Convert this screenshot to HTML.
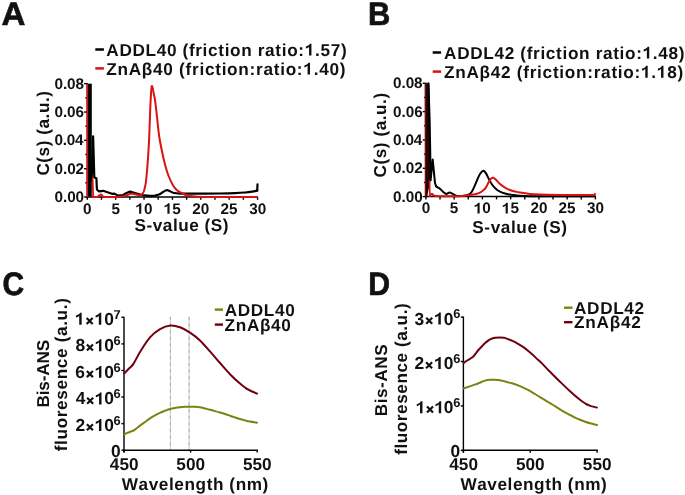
<!DOCTYPE html>
<html><head><meta charset="utf-8"><style>
html,body{margin:0;padding:0;background:#fff;}
body{width:685px;height:495px;overflow:hidden;}
svg{display:block;will-change:transform;}
svg text{font-family:"Liberation Sans",sans-serif;font-weight:bold;font-kerning:none;text-rendering:geometricPrecision;}
</style></head><body>
<svg width="685" height="495" viewBox="0 0 685 495">
<rect width="685" height="495" fill="#fff"/>
<text transform="translate(1.42 24.55) scale(1.02 1)" font-size="32.5" fill="#111" stroke="#111" stroke-width="0.7" stroke-linejoin="round">A</text>
<text transform="translate(367.97 24.75) scale(0.95 1)" font-size="32.5" fill="#111" stroke="#111" stroke-width="0.7" stroke-linejoin="round">B</text>
<text transform="translate(2.52 295.05) scale(0.92 1)" font-size="32.5" fill="#111" stroke="#111" stroke-width="0.7" stroke-linejoin="round">C</text>
<text transform="translate(368.13 294.55) scale(0.93 1)" font-size="32.5" fill="#111" stroke="#111" stroke-width="0.7" stroke-linejoin="round">D</text>
<line x1="87.3" y1="83.2" x2="87.3" y2="197.7" stroke="#000" stroke-width="1.5"/>
<line x1="86.6" y1="197" x2="258.05" y2="197" stroke="#000" stroke-width="1.5"/>
<line x1="84.1" y1="197" x2="87.3" y2="197" stroke="#000" stroke-width="1.4"/>
<line x1="85.3" y1="182.84" x2="87.3" y2="182.84" stroke="#000" stroke-width="1.4"/>
<line x1="84.1" y1="168.68" x2="87.3" y2="168.68" stroke="#000" stroke-width="1.4"/>
<line x1="85.3" y1="154.51" x2="87.3" y2="154.51" stroke="#000" stroke-width="1.4"/>
<line x1="84.1" y1="140.35" x2="87.3" y2="140.35" stroke="#000" stroke-width="1.4"/>
<line x1="85.3" y1="126.19" x2="87.3" y2="126.19" stroke="#000" stroke-width="1.4"/>
<line x1="84.1" y1="112.03" x2="87.3" y2="112.03" stroke="#000" stroke-width="1.4"/>
<line x1="85.3" y1="97.86" x2="87.3" y2="97.86" stroke="#000" stroke-width="1.4"/>
<line x1="84.1" y1="83.7" x2="87.3" y2="83.7" stroke="#000" stroke-width="1.4"/>
<line x1="87.3" y1="197" x2="87.3" y2="199.8" stroke="#000" stroke-width="1.4"/>
<line x1="101.49" y1="197" x2="101.49" y2="199.8" stroke="#000" stroke-width="1.4"/>
<line x1="115.67" y1="197" x2="115.67" y2="199.8" stroke="#000" stroke-width="1.4"/>
<line x1="129.86" y1="197" x2="129.86" y2="199.8" stroke="#000" stroke-width="1.4"/>
<line x1="144.05" y1="197" x2="144.05" y2="199.8" stroke="#000" stroke-width="1.4"/>
<line x1="158.24" y1="197" x2="158.24" y2="199.8" stroke="#000" stroke-width="1.4"/>
<line x1="172.43" y1="197" x2="172.43" y2="199.8" stroke="#000" stroke-width="1.4"/>
<line x1="186.61" y1="197" x2="186.61" y2="199.8" stroke="#000" stroke-width="1.4"/>
<line x1="200.8" y1="197" x2="200.8" y2="199.8" stroke="#000" stroke-width="1.4"/>
<line x1="214.99" y1="197" x2="214.99" y2="199.8" stroke="#000" stroke-width="1.4"/>
<line x1="229.18" y1="197" x2="229.18" y2="199.8" stroke="#000" stroke-width="1.4"/>
<line x1="243.36" y1="197" x2="243.36" y2="199.8" stroke="#000" stroke-width="1.4"/>
<line x1="257.55" y1="197" x2="257.55" y2="199.8" stroke="#000" stroke-width="1.4"/>
<text x="54.49" y="202.1" font-size="15.3" fill="#111" style="letter-spacing:-0.05px">0.00</text>
<text x="54.49" y="173.78" font-size="15.3" fill="#111" style="letter-spacing:-0.05px">0.02</text>
<text x="54.49" y="145.45" font-size="15.3" fill="#111" style="letter-spacing:-0.23px">0.04</text>
<text x="54.49" y="117.12" font-size="15.3" fill="#111" style="letter-spacing:-0.07px">0.06</text>
<text x="54.49" y="88.8" font-size="15.3" fill="#111" style="letter-spacing:-0.1px">0.08</text>
<text x="83.06" y="213.8" font-size="15.3" fill="#111" style="letter-spacing:0px">0</text>
<text x="111.4" y="213.8" font-size="15.3" fill="#111" style="letter-spacing:0px">5</text>
<path transform="translate(135.41 213.8) scale(0.007471 -0.007471)" d="M500 0 L787 0 L787 1409 L600 1409 C570 1330 500 1255 400 1195 C320 1147 220 1110 120 1085 L120 840 C270 885 400 950 500 1030 Z" fill="#111"/>
<text x="143.92" y="213.8" font-size="15.3" fill="#111" style="letter-spacing:-0px">0</text>
<path transform="translate(163.68 213.8) scale(0.007471 -0.007471)" d="M500 0 L787 0 L787 1409 L600 1409 C570 1330 500 1255 400 1195 C320 1147 220 1110 120 1085 L120 840 C270 885 400 950 500 1030 Z" fill="#111"/>
<text x="172.19" y="213.8" font-size="15.3" fill="#111" style="letter-spacing:0px">5</text>
<text x="192.34" y="213.8" font-size="15.3" fill="#111" style="letter-spacing:0px">20</text>
<text x="220.61" y="213.8" font-size="15.3" fill="#111" style="letter-spacing:0px">25</text>
<text x="249.18" y="213.8" font-size="15.3" fill="#111" style="letter-spacing:0px">30</text>
<text x="106.37" y="55.6" font-size="17.2" fill="#111" style="letter-spacing:0.65px">ADDL40 (friction ratio:</text>
<path transform="translate(304.84 55.6) scale(0.008398 -0.008398)" d="M500 0 L787 0 L787 1409 L600 1409 C570 1330 500 1255 400 1195 C320 1147 220 1110 120 1085 L120 840 C270 885 400 950 500 1030 Z" fill="#111"/>
<text x="315.06" y="55.6" font-size="17.2" fill="#111" style="letter-spacing:0.65px">.57)</text>
<text x="106.29" y="74.5" font-size="17.2" fill="#111" style="letter-spacing:0.72px">ZnAβ40 (friction:ratio:</text>
<path transform="translate(303.38 74.5) scale(0.008398 -0.008398)" d="M500 0 L787 0 L787 1409 L600 1409 C570 1330 500 1255 400 1195 C320 1147 220 1110 120 1085 L120 840 C270 885 400 950 500 1030 Z" fill="#111"/>
<text x="313.67" y="74.5" font-size="17.2" fill="#111" style="letter-spacing:0.72px">.40)</text>
<line x1="95.3" y1="49.5" x2="103.9" y2="49.5" stroke="#000" stroke-width="2.5"/>
<line x1="95.3" y1="68.4" x2="103.9" y2="68.4" stroke="#dc1212" stroke-width="2.5"/>
<text transform="translate(48.5 175.61) rotate(-90)" font-size="17.2" fill="#111" style="letter-spacing:0.53px">C(s) (a.u.)</text>
<text x="134.6" y="231" font-size="17.2" fill="#111" style="letter-spacing:0.51px">S-value (S)</text>
<rect x="88" y="83.7" width="3.8" height="113" fill="#000"/>
<path d="M91.6 181 L93.1 136.3 L94.3 177.4 L96.4 178.2 L96.9 189.5 L99 191.3 L103.2 190.8 L107.5 192.2 L112 193.8 L114.4 193.6 L118 195.6 L123 195 L126 193.2 L130 191.6 L135 193 L142 195 L150 195.8 L155 195.6 L157 195.2" fill="none" stroke="#000" stroke-width="2.2" stroke-linejoin="round" stroke-linecap="round"/>
<path d="M157 195.2 C157.5 195 159 194.53 160 194 C161 193.47 161.85 192.63 163 192 C164.15 191.37 165.73 190.32 166.9 190.2 C168.07 190.08 168.82 190.83 170 191.3 C171.18 191.77 172.33 192.62 174 193 C175.67 193.38 177.33 193.48 180 193.6 C182.67 193.72 185.83 193.68 190 193.7 C194.17 193.72 200 193.73 205 193.7 C210 193.67 215 193.6 220 193.5 C225 193.4 230.83 193.27 235 193.1 C239.17 192.93 242.17 192.73 245 192.5 C247.83 192.27 250.17 191.97 252 191.7 C253.83 191.43 255.13 191.12 256 190.9 C256.87 190.68 257 190.48 257.2 190.4" fill="none" stroke="#000" stroke-width="2.2" stroke-linejoin="round" stroke-linecap="round"/>
<line x1="257.2" y1="190.6" x2="257.5" y2="184.3" stroke="#000" stroke-width="2.2" stroke-linecap="round"/>
<line x1="87.3" y1="83.7" x2="87.3" y2="197" stroke="#dc1212" stroke-width="1.6"/>
<path d="M92.6 179 L93.2 196.5" fill="none" stroke="#dc1212" stroke-width="1.8" stroke-linejoin="round" stroke-linecap="round"/>
<path d="M93.2 196.9 C93.92 196.9 96.23 197.32 97.5 196.9 C98.77 196.48 99.8 194.43 100.8 194.4 C101.8 194.37 101.97 196.28 103.5 196.7 C105.03 197.12 107.25 196.9 110 196.9 C112.75 196.9 117.33 196.92 120 196.7 C122.67 196.48 124.25 196.08 126 195.6 C127.75 195.12 129.17 194.07 130.5 193.8 C131.83 193.53 132.75 193.8 134 194 C135.25 194.2 136.83 194.78 138 195 C139.17 195.22 140.5 195.25 141 195.3" fill="none" stroke="#dc1212" stroke-width="2" stroke-linejoin="round" stroke-linecap="round"/>
<path d="M141 195.3 C141.27 195.02 142.1 194.32 142.6 193.6 C143.1 192.88 143.58 192.18 144 191 C144.42 189.82 144.78 188 145.1 186.5 C145.42 185 145.55 184.92 145.9 182 C146.25 179.08 146.78 174 147.2 169 C147.62 164 148.05 157.67 148.4 152 C148.75 146.33 148.97 142.83 149.3 135 C149.63 127.17 150.02 113 150.4 105 C150.78 97 151.23 89.8 151.6 87 C151.97 84.2 152.43 88 152.6 88.2" fill="none" stroke="#dc1212" stroke-width="2" stroke-linejoin="round" stroke-linecap="round"/>
<path d="M152.6 88.2 C153 90.17 154.27 95.2 155 100 C155.73 104.8 156.33 111.17 157 117 C157.67 122.83 158.22 129.5 159 135 C159.78 140.5 160.7 145.08 161.7 150 C162.7 154.92 163.92 160.33 165 164.5 C166.08 168.67 166.9 171.58 168.2 175 C169.5 178.42 171.38 182.5 172.8 185 C174.22 187.5 175.17 188.63 176.7 190 C178.23 191.37 180.28 192.32 182 193.2 C183.72 194.08 184.83 194.73 187 195.3 C189.17 195.87 192 196.32 195 196.6 C198 196.88 203.33 196.93 205 197" fill="none" stroke="#dc1212" stroke-width="2" stroke-linejoin="round" stroke-linecap="round"/>
<line x1="205" y1="197" x2="257.8" y2="197" stroke="#dc1212" stroke-width="2"/>
<line x1="425.9" y1="82.8" x2="425.9" y2="197.3" stroke="#000" stroke-width="1.5"/>
<line x1="425.2" y1="196.6" x2="595.9" y2="196.6" stroke="#000" stroke-width="1.5"/>
<line x1="422.7" y1="196.6" x2="425.9" y2="196.6" stroke="#000" stroke-width="1.4"/>
<line x1="423.9" y1="182.44" x2="425.9" y2="182.44" stroke="#000" stroke-width="1.4"/>
<line x1="422.7" y1="168.28" x2="425.9" y2="168.28" stroke="#000" stroke-width="1.4"/>
<line x1="423.9" y1="154.11" x2="425.9" y2="154.11" stroke="#000" stroke-width="1.4"/>
<line x1="422.7" y1="139.95" x2="425.9" y2="139.95" stroke="#000" stroke-width="1.4"/>
<line x1="423.9" y1="125.79" x2="425.9" y2="125.79" stroke="#000" stroke-width="1.4"/>
<line x1="422.7" y1="111.62" x2="425.9" y2="111.62" stroke="#000" stroke-width="1.4"/>
<line x1="423.9" y1="97.46" x2="425.9" y2="97.46" stroke="#000" stroke-width="1.4"/>
<line x1="422.7" y1="83.3" x2="425.9" y2="83.3" stroke="#000" stroke-width="1.4"/>
<line x1="425.9" y1="196.6" x2="425.9" y2="199.4" stroke="#000" stroke-width="1.4"/>
<line x1="440.02" y1="196.6" x2="440.02" y2="199.4" stroke="#000" stroke-width="1.4"/>
<line x1="454.15" y1="196.6" x2="454.15" y2="199.4" stroke="#000" stroke-width="1.4"/>
<line x1="468.27" y1="196.6" x2="468.27" y2="199.4" stroke="#000" stroke-width="1.4"/>
<line x1="482.4" y1="196.6" x2="482.4" y2="199.4" stroke="#000" stroke-width="1.4"/>
<line x1="496.52" y1="196.6" x2="496.52" y2="199.4" stroke="#000" stroke-width="1.4"/>
<line x1="510.65" y1="196.6" x2="510.65" y2="199.4" stroke="#000" stroke-width="1.4"/>
<line x1="524.77" y1="196.6" x2="524.77" y2="199.4" stroke="#000" stroke-width="1.4"/>
<line x1="538.9" y1="196.6" x2="538.9" y2="199.4" stroke="#000" stroke-width="1.4"/>
<line x1="553.02" y1="196.6" x2="553.02" y2="199.4" stroke="#000" stroke-width="1.4"/>
<line x1="567.15" y1="196.6" x2="567.15" y2="199.4" stroke="#000" stroke-width="1.4"/>
<line x1="581.27" y1="196.6" x2="581.27" y2="199.4" stroke="#000" stroke-width="1.4"/>
<line x1="595.4" y1="196.6" x2="595.4" y2="199.4" stroke="#000" stroke-width="1.4"/>
<text x="393.09" y="201.7" font-size="15.3" fill="#111" style="letter-spacing:-0.05px">0.00</text>
<text x="393.09" y="173.38" font-size="15.3" fill="#111" style="letter-spacing:-0.05px">0.02</text>
<text x="393.09" y="145.05" font-size="15.3" fill="#111" style="letter-spacing:-0.23px">0.04</text>
<text x="393.09" y="116.72" font-size="15.3" fill="#111" style="letter-spacing:-0.07px">0.06</text>
<text x="393.09" y="88.4" font-size="15.3" fill="#111" style="letter-spacing:-0.1px">0.08</text>
<text x="421.66" y="213.4" font-size="15.3" fill="#111" style="letter-spacing:0px">0</text>
<text x="449.87" y="213.4" font-size="15.3" fill="#111" style="letter-spacing:0px">5</text>
<path transform="translate(473.76 213.4) scale(0.007471 -0.007471)" d="M500 0 L787 0 L787 1409 L600 1409 C570 1330 500 1255 400 1195 C320 1147 220 1110 120 1085 L120 840 C270 885 400 950 500 1030 Z" fill="#111"/>
<text x="482.27" y="213.4" font-size="15.3" fill="#111" style="letter-spacing:-0px">0</text>
<path transform="translate(501.91 213.4) scale(0.007471 -0.007471)" d="M500 0 L787 0 L787 1409 L600 1409 C570 1330 500 1255 400 1195 C320 1147 220 1110 120 1085 L120 840 C270 885 400 950 500 1030 Z" fill="#111"/>
<text x="510.41" y="213.4" font-size="15.3" fill="#111" style="letter-spacing:-0px">5</text>
<text x="530.44" y="213.4" font-size="15.3" fill="#111" style="letter-spacing:-0px">20</text>
<text x="558.59" y="213.4" font-size="15.3" fill="#111" style="letter-spacing:0px">25</text>
<text x="587.03" y="213.4" font-size="15.3" fill="#111" style="letter-spacing:0px">30</text>
<text x="444.07" y="58.6" font-size="17.2" fill="#111" style="letter-spacing:0.66px">ADDL42 (friction ratio:</text>
<path transform="translate(642.63 58.6) scale(0.008398 -0.008398)" d="M500 0 L787 0 L787 1409 L600 1409 C570 1330 500 1255 400 1195 C320 1147 220 1110 120 1085 L120 840 C270 885 400 950 500 1030 Z" fill="#111"/>
<text x="652.85" y="58.6" font-size="17.2" fill="#111" style="letter-spacing:0.66px">.48)</text>
<text x="443.99" y="77.7" font-size="17.2" fill="#111" style="letter-spacing:0.72px">ZnAβ42 (friction:ratio:</text>
<path transform="translate(641.08 77.7) scale(0.008398 -0.008398)" d="M500 0 L787 0 L787 1409 L600 1409 C570 1330 500 1255 400 1195 C320 1147 220 1110 120 1085 L120 840 C270 885 400 950 500 1030 Z" fill="#111"/>
<text x="651.37" y="77.7" font-size="17.2" fill="#111" style="letter-spacing:0.72px">.</text>
<path transform="translate(656.86 77.7) scale(0.008398 -0.008398)" d="M500 0 L787 0 L787 1409 L600 1409 C570 1330 500 1255 400 1195 C320 1147 220 1110 120 1085 L120 840 C270 885 400 950 500 1030 Z" fill="#111"/>
<text x="667.15" y="77.7" font-size="17.2" fill="#111" style="letter-spacing:0.72px">8)</text>
<line x1="432.7" y1="52.5" x2="441.1" y2="52.5" stroke="#000" stroke-width="2.5"/>
<line x1="432.7" y1="71.6" x2="441.1" y2="71.6" stroke="#dc1212" stroke-width="2.5"/>
<text transform="translate(386.2 177.41) rotate(-90)" font-size="17.2" fill="#111" style="letter-spacing:0.53px">C(s) (a.u.)</text>
<text x="472.3" y="233.4" font-size="17.2" fill="#111" style="letter-spacing:0.59px">S-value (S)</text>
<path d="M424.8 83.3 L429.3 83.3 L430 100 L430.2 140 L430.6 180 L427.2 196.6 L425 196.6 Z" fill="#260404"/>
<line x1="425.2" y1="83.3" x2="425.2" y2="196.6" stroke="#a01818" stroke-width="0.9"/>
<path d="M428.4 83.3 L429.6 120 L430.2 150 L430.6 180.3 L432.7 159.6 L435 183 L436.2 186.4" fill="none" stroke="#000" stroke-width="2" stroke-linejoin="round" stroke-linecap="round"/>
<path d="M436.2 186.4 C436.5 186.6 437.33 187.17 438 187.6 C438.67 188.03 439.32 188.27 440.2 189 C441.08 189.73 442.28 191.18 443.3 192 C444.32 192.82 445.27 193.83 446.3 193.9 C447.33 193.97 448.55 192.47 449.5 192.4 C450.45 192.33 450.92 192.97 452 193.5 C453.08 194.03 454.67 195.18 456 195.6 C457.33 196.02 458.67 195.97 460 196 C461.33 196.03 462.83 195.95 464 195.8 C465.17 195.65 465.83 195.6 467 195.1 C468.17 194.6 469.83 194.08 471 192.8 C472.17 191.52 473 189.47 474 187.4 C475 185.33 476 182.63 477 180.4 C478 178.17 478.93 175.6 480 174 C481.07 172.4 482.4 170.9 483.4 170.8 C484.4 170.7 485.07 172 486 173.4 C486.93 174.8 488 177.35 489 179.2 C490 181.05 490.83 182.87 492 184.5 C493.17 186.13 494.67 187.8 496 189 C497.33 190.2 498.33 190.9 500 191.7 C501.67 192.5 503.5 193.2 506 193.8 C508.5 194.4 511.83 194.93 515 195.3 C518.17 195.67 520.83 195.83 525 196 C529.17 196.17 537.5 196.25 540 196.3" fill="none" stroke="#000" stroke-width="2" stroke-linejoin="round" stroke-linecap="round"/>
<line x1="540" y1="196.3" x2="595.5" y2="196.3" stroke="#000" stroke-width="2"/>
<path d="M429.6 181 L429.8 196" fill="none" stroke="#dc1212" stroke-width="1.6" stroke-linejoin="round" stroke-linecap="round"/>
<path d="M429.8 196 C430.15 195.63 431.2 193.87 431.9 193.8 C432.6 193.73 432.65 195.2 434 195.6 C435.35 196 436.5 196.08 440 196.2 C443.5 196.32 451.33 196.33 455 196.3 C458.67 196.27 459.5 196.2 462 196 C464.5 195.8 467.67 195.43 470 195.1 C472.33 194.77 474.33 194.42 476 194 C477.67 193.58 478.83 193.18 480 192.6 C481.17 192.02 482 191.37 483 190.5 C484 189.63 485 188.9 486 187.4 C487 185.9 488.08 183.02 489 181.5 C489.92 179.98 490.83 178.92 491.5 178.3 C492.17 177.68 492.25 177.55 493 177.8 C493.75 178.05 494.83 178.77 496 179.8 C497.17 180.83 498.5 182.7 500 184 C501.5 185.3 503.33 186.6 505 187.6 C506.67 188.6 508.33 189.35 510 190 C511.67 190.65 513.33 191.07 515 191.5 C516.67 191.93 517.5 192.18 520 192.6 C522.5 193.02 526.67 193.67 530 194 C533.33 194.33 535 194.43 540 194.6 C545 194.77 553.33 194.92 560 195 C566.67 195.08 574.33 195.08 580 195.1 C585.67 195.12 591.67 195.1 594 195.1" fill="none" stroke="#dc1212" stroke-width="2" stroke-linejoin="round" stroke-linecap="round"/>
<line x1="594" y1="195.1" x2="595.6" y2="193.4" stroke="#dc1212" stroke-width="2"/>
<line x1="170.4" y1="316.8" x2="170.4" y2="450" stroke="#c4c4c4" stroke-width="0.9"/>
<line x1="170.4" y1="316.8" x2="170.4" y2="450" stroke="#a6a6a6" stroke-width="0.9" stroke-dasharray="3 3.6"/>
<line x1="189.1" y1="316.8" x2="189.1" y2="450" stroke="#c4c4c4" stroke-width="0.9"/>
<line x1="189.1" y1="316.8" x2="189.1" y2="450" stroke="#a6a6a6" stroke-width="0.9" stroke-dasharray="3 3.6"/>
<line x1="124" y1="316.7" x2="124" y2="452.6" stroke="#000" stroke-width="1.4"/>
<line x1="123.3" y1="450.2" x2="257.9" y2="450.2" stroke="#000" stroke-width="1.4"/>
<line x1="121.4" y1="450.2" x2="124" y2="450.2" stroke="#000" stroke-width="1.4"/>
<line x1="121.4" y1="423.62" x2="124" y2="423.62" stroke="#000" stroke-width="1.4"/>
<line x1="121.4" y1="397.04" x2="124" y2="397.04" stroke="#000" stroke-width="1.4"/>
<line x1="121.4" y1="370.46" x2="124" y2="370.46" stroke="#000" stroke-width="1.4"/>
<line x1="121.4" y1="343.88" x2="124" y2="343.88" stroke="#000" stroke-width="1.4"/>
<line x1="121.4" y1="317.3" x2="124" y2="317.3" stroke="#000" stroke-width="1.4"/>
<line x1="124" y1="450.2" x2="124" y2="452.6" stroke="#000" stroke-width="1.4"/>
<line x1="190.6" y1="450.2" x2="190.6" y2="452.6" stroke="#000" stroke-width="1.4"/>
<line x1="257.2" y1="450.2" x2="257.2" y2="452.6" stroke="#000" stroke-width="1.4"/>
<path transform="translate(74.98 324.7) scale(0.008496 -0.008496)" d="M500 0 L787 0 L787 1409 L600 1409 C570 1330 500 1255 400 1195 C320 1147 220 1110 120 1085 L120 840 C270 885 400 950 500 1030 Z" fill="#111"/>
<path transform="translate(84.54 324.7) scale(0.008496 -0.008496)" d="M245.1561146012848 85.1561146012848 L954.8438853987152 794.8438853987152 M245.1561146012848 794.8438853987152 L954.8438853987152 85.1561146012848" fill="none" stroke="#111" stroke-width="255"/>
<path transform="translate(94.58 324.7) scale(0.008496 -0.008496)" d="M500 0 L787 0 L787 1409 L600 1409 C570 1330 500 1255 400 1195 C320 1147 220 1110 120 1085 L120 840 C270 885 400 950 500 1030 Z" fill="#111"/>
<text x="104.14" y="324.7" font-size="17.4" fill="#111" style="letter-spacing:-0.12px">0</text>
<text x="113.59" y="318.6" font-size="12.9" fill="#111" style="letter-spacing:0px">7</text>
<text x="75.45" y="351.28" font-size="17.4" fill="#111" style="letter-spacing:-0.28px">8</text>
<path transform="translate(84.85 351.28) scale(0.008496 -0.008496)" d="M245.1561146012848 85.1561146012848 L954.8438853987152 794.8438853987152 M245.1561146012848 794.8438853987152 L954.8438853987152 85.1561146012848" fill="none" stroke="#111" stroke-width="255"/>
<path transform="translate(94.74 351.28) scale(0.008496 -0.008496)" d="M500 0 L787 0 L787 1409 L600 1409 C570 1330 500 1255 400 1195 C320 1147 220 1110 120 1085 L120 840 C270 885 400 950 500 1030 Z" fill="#111"/>
<text x="104.14" y="351.28" font-size="17.4" fill="#111" style="letter-spacing:-0.28px">0</text>
<text x="113.49" y="345.18" font-size="12.9" fill="#111" style="letter-spacing:0px">6</text>
<text x="75.36" y="377.86" font-size="17.4" fill="#111" style="letter-spacing:-0.25px">6</text>
<path transform="translate(84.79 377.86) scale(0.008496 -0.008496)" d="M245.1561146012848 85.1561146012848 L954.8438853987152 794.8438853987152 M245.1561146012848 794.8438853987152 L954.8438853987152 85.1561146012848" fill="none" stroke="#111" stroke-width="255"/>
<path transform="translate(94.71 377.86) scale(0.008496 -0.008496)" d="M500 0 L787 0 L787 1409 L600 1409 C570 1330 500 1255 400 1195 C320 1147 220 1110 120 1085 L120 840 C270 885 400 950 500 1030 Z" fill="#111"/>
<text x="104.14" y="377.86" font-size="17.4" fill="#111" style="letter-spacing:-0.25px">0</text>
<text x="113.49" y="371.76" font-size="12.9" fill="#111" style="letter-spacing:0px">6</text>
<text x="75.74" y="404.44" font-size="17.4" fill="#111" style="letter-spacing:-0.37px">4</text>
<path transform="translate(85.04 404.44) scale(0.008496 -0.008496)" d="M245.1561146012848 85.1561146012848 L954.8438853987152 794.8438853987152 M245.1561146012848 794.8438853987152 L954.8438853987152 85.1561146012848" fill="none" stroke="#111" stroke-width="255"/>
<path transform="translate(94.83 404.44) scale(0.008496 -0.008496)" d="M500 0 L787 0 L787 1409 L600 1409 C570 1330 500 1255 400 1195 C320 1147 220 1110 120 1085 L120 840 C270 885 400 950 500 1030 Z" fill="#111"/>
<text x="104.14" y="404.44" font-size="17.4" fill="#111" style="letter-spacing:-0.37px">0</text>
<text x="113.49" y="398.34" font-size="12.9" fill="#111" style="letter-spacing:0px">6</text>
<text x="75.4" y="431.02" font-size="17.4" fill="#111" style="letter-spacing:-0.26px">2</text>
<path transform="translate(84.82 431.02) scale(0.008496 -0.008496)" d="M245.1561146012848 85.1561146012848 L954.8438853987152 794.8438853987152 M245.1561146012848 794.8438853987152 L954.8438853987152 85.1561146012848" fill="none" stroke="#111" stroke-width="255"/>
<path transform="translate(94.72 431.02) scale(0.008496 -0.008496)" d="M500 0 L787 0 L787 1409 L600 1409 C570 1330 500 1255 400 1195 C320 1147 220 1110 120 1085 L120 840 C270 885 400 950 500 1030 Z" fill="#111"/>
<text x="104.14" y="431.02" font-size="17.4" fill="#111" style="letter-spacing:-0.26px">0</text>
<text x="113.49" y="424.92" font-size="12.9" fill="#111" style="letter-spacing:0px">6</text>
<text x="111.04" y="457" font-size="17.4" fill="#111" style="letter-spacing:0px">0</text>
<text x="109.87" y="469.7" font-size="17.2" fill="#111" style="letter-spacing:0px">450</text>
<text x="176.34" y="469.7" font-size="17.2" fill="#111" style="letter-spacing:0px">500</text>
<text x="242.94" y="469.7" font-size="17.2" fill="#111" style="letter-spacing:0px">550</text>
<line x1="214.8" y1="309.6" x2="223" y2="309.6" stroke="#7c8214" stroke-width="2.4"/>
<line x1="214.8" y1="324.6" x2="223" y2="324.6" stroke="#700010" stroke-width="2.4"/>
<text x="224.67" y="315.7" font-size="17.2" fill="#111" style="letter-spacing:0.65px">ADDL40</text>
<text x="224.59" y="330.7" font-size="17.2" fill="#111" style="letter-spacing:0.65px">ZnAβ40</text>
<text transform="translate(49.1 407.55) rotate(-90)" font-size="17.2" fill="#111" style="letter-spacing:-0.18px">Bis-ANS</text>
<text transform="translate(67.3 451.29) rotate(-90)" font-size="17.2" fill="#111" style="letter-spacing:0.64px">fluoresence (a.u.)</text>
<text x="121.78" y="489.5" font-size="17.2" fill="#111" style="letter-spacing:0.58px">Wavelength (nm)</text>
<path d="M124.3 373.3 C125.08 372.5 127.45 370.12 129 368.5 C130.55 366.88 131.77 366.35 133.6 363.6 C135.43 360.85 137.27 356.37 140 352 C142.73 347.63 146.67 341.22 150 337.4 C153.33 333.58 156.6 331.08 160 329.1 C163.4 327.12 167.07 325.8 170.4 325.5 C173.73 325.2 176.73 326.12 180 327.3 C183.27 328.48 186.67 330.42 190 332.6 C193.33 334.78 196.67 337.27 200 340.4 C203.33 343.53 206.67 347.63 210 351.4 C213.33 355.17 216.67 359.2 220 363 C223.33 366.8 226.67 370.77 230 374.2 C233.33 377.63 237.25 381.2 240 383.6 C242.75 386 245.42 387.77 246.5 388.6" fill="none" stroke="#700010" stroke-width="2" stroke-linejoin="round" stroke-linecap="round"/>
<path d="M246.5 388.6 L251 391 L257 393.6" fill="none" stroke="#700010" stroke-width="2" stroke-linejoin="round" stroke-linecap="round"/>
<path d="M124.3 434.3 C124.92 434.03 126.72 433.23 128 432.7 C129.28 432.17 130.83 431.62 132 431.1 C133.17 430.58 133.67 430.52 135 429.6 C136.33 428.68 138.33 426.87 140 425.6 C141.67 424.33 143.33 423.2 145 422 C146.67 420.8 148.33 419.5 150 418.4 C151.67 417.3 153.33 416.33 155 415.4 C156.67 414.47 158.33 413.57 160 412.8 C161.67 412.03 163.33 411.43 165 410.8 C166.67 410.17 168.33 409.48 170 409 C171.67 408.52 173.33 408.2 175 407.9 C176.67 407.6 178.33 407.38 180 407.2 C181.67 407.02 183.33 406.88 185 406.8 C186.67 406.72 188.33 406.72 190 406.7 C191.67 406.68 193.33 406.62 195 406.7 C196.67 406.78 198.33 406.9 200 407.2 C201.67 407.5 203.33 408.07 205 408.5 C206.67 408.93 208.33 409.37 210 409.8 C211.67 410.23 213.33 410.65 215 411.1 C216.67 411.55 218.33 412.02 220 412.5 C221.67 412.98 223.33 413.47 225 414 C226.67 414.53 228.33 415.13 230 415.7 C231.67 416.27 233.33 416.85 235 417.4 C236.67 417.95 238.33 418.5 240 419 C241.67 419.5 243.33 419.97 245 420.4 C246.67 420.83 248 421.22 250 421.6 C252 421.98 255.83 422.52 257 422.7" fill="none" stroke="#7c8214" stroke-width="2" stroke-linejoin="round" stroke-linecap="round"/>
<line x1="463.4" y1="316.5" x2="463.4" y2="452.7" stroke="#000" stroke-width="1.4"/>
<line x1="462.7" y1="450.3" x2="597.8" y2="450.3" stroke="#000" stroke-width="1.4"/>
<line x1="460.8" y1="450.3" x2="463.4" y2="450.3" stroke="#000" stroke-width="1.4"/>
<line x1="460.8" y1="405.9" x2="463.4" y2="405.9" stroke="#000" stroke-width="1.4"/>
<line x1="460.8" y1="361.5" x2="463.4" y2="361.5" stroke="#000" stroke-width="1.4"/>
<line x1="460.8" y1="317.1" x2="463.4" y2="317.1" stroke="#000" stroke-width="1.4"/>
<line x1="463.4" y1="450.3" x2="463.4" y2="452.7" stroke="#000" stroke-width="1.4"/>
<line x1="530.25" y1="450.3" x2="530.25" y2="452.7" stroke="#000" stroke-width="1.4"/>
<line x1="597.1" y1="450.3" x2="597.1" y2="452.7" stroke="#000" stroke-width="1.4"/>
<text x="414.6" y="324.5" font-size="17.4" fill="#111" style="letter-spacing:-0.16px">3</text>
<path transform="translate(424.12 324.5) scale(0.008496 -0.008496)" d="M245.1561146012848 85.1561146012848 L954.8438853987152 794.8438853987152 M245.1561146012848 794.8438853987152 L954.8438853987152 85.1561146012848" fill="none" stroke="#111" stroke-width="255"/>
<path transform="translate(434.12 324.5) scale(0.008496 -0.008496)" d="M500 0 L787 0 L787 1409 L600 1409 C570 1330 500 1255 400 1195 C320 1147 220 1110 120 1085 L120 840 C270 885 400 950 500 1030 Z" fill="#111"/>
<text x="443.64" y="324.5" font-size="17.4" fill="#111" style="letter-spacing:-0.16px">0</text>
<text x="453.29" y="318.4" font-size="12.9" fill="#111" style="letter-spacing:0px">6</text>
<text x="414.4" y="368.9" font-size="17.4" fill="#111" style="letter-spacing:-0.09px">2</text>
<path transform="translate(423.98 368.9) scale(0.008496 -0.008496)" d="M245.1561146012848 85.1561146012848 L954.8438853987152 794.8438853987152 M245.1561146012848 794.8438853987152 L954.8438853987152 85.1561146012848" fill="none" stroke="#111" stroke-width="255"/>
<path transform="translate(434.05 368.9) scale(0.008496 -0.008496)" d="M500 0 L787 0 L787 1409 L600 1409 C570 1330 500 1255 400 1195 C320 1147 220 1110 120 1085 L120 840 C270 885 400 950 500 1030 Z" fill="#111"/>
<text x="443.64" y="368.9" font-size="17.4" fill="#111" style="letter-spacing:-0.09px">0</text>
<text x="453.29" y="362.8" font-size="12.9" fill="#111" style="letter-spacing:0px">6</text>
<path transform="translate(415.78 413.3) scale(0.008496 -0.008496)" d="M500 0 L787 0 L787 1409 L600 1409 C570 1330 500 1255 400 1195 C320 1147 220 1110 120 1085 L120 840 C270 885 400 950 500 1030 Z" fill="#111"/>
<path transform="translate(424.9 413.3) scale(0.008496 -0.008496)" d="M245.1561146012848 85.1561146012848 L954.8438853987152 794.8438853987152 M245.1561146012848 794.8438853987152 L954.8438853987152 85.1561146012848" fill="none" stroke="#111" stroke-width="255"/>
<path transform="translate(434.51 413.3) scale(0.008496 -0.008496)" d="M500 0 L787 0 L787 1409 L600 1409 C570 1330 500 1255 400 1195 C320 1147 220 1110 120 1085 L120 840 C270 885 400 950 500 1030 Z" fill="#111"/>
<text x="443.64" y="413.3" font-size="17.4" fill="#111" style="letter-spacing:-0.55px">0</text>
<text x="453.29" y="407.2" font-size="12.9" fill="#111" style="letter-spacing:0px">6</text>
<text x="450.44" y="457.1" font-size="17.4" fill="#111" style="letter-spacing:0px">0</text>
<text x="449.27" y="470.1" font-size="17.2" fill="#111" style="letter-spacing:-0px">450</text>
<text x="515.99" y="470.1" font-size="17.2" fill="#111" style="letter-spacing:0px">500</text>
<text x="582.84" y="470.1" font-size="17.2" fill="#111" style="letter-spacing:0px">550</text>
<line x1="564" y1="307.7" x2="572.5" y2="307.7" stroke="#7c8214" stroke-width="2.4"/>
<line x1="564" y1="322.2" x2="572.5" y2="322.2" stroke="#700010" stroke-width="2.4"/>
<text x="574.07" y="313.8" font-size="17.2" fill="#111" style="letter-spacing:0.62px">ADDL42</text>
<text x="573.99" y="328.3" font-size="17.2" fill="#111" style="letter-spacing:0.77px">ZnAβ42</text>
<text transform="translate(387.2 416.15) rotate(-90)" font-size="17.2" fill="#111" style="letter-spacing:0.5px">Bis-ANS</text>
<text transform="translate(407.2 454.79) rotate(-90)" font-size="17.2" fill="#111" style="letter-spacing:0.54px">fluoresence (a.u.)</text>
<text x="460.48" y="490" font-size="17.2" fill="#111" style="letter-spacing:0.56px">Wavelength (nm)</text>
<path d="M463.5 363.2 C463.92 362.87 465.25 361.73 466 361.2 C466.75 360.67 466.92 360.65 468 360 C469.08 359.35 471.33 358.23 472.5 357.3 C473.67 356.37 474.08 355.53 475 354.4 C475.92 353.27 476.83 351.87 478 350.5 C479.17 349.13 480.67 347.57 482 346.2 C483.33 344.83 484.67 343.45 486 342.3 C487.33 341.15 488.5 340.05 490 339.3 C491.5 338.55 493.33 338.12 495 337.8 C496.67 337.48 498.5 337.4 500 337.4 C501.5 337.4 502.67 337.52 504 337.8 C505.33 338.08 506.5 338.55 508 339.1 C509.5 339.65 511.33 340.32 513 341.1 C514.67 341.88 516.33 342.83 518 343.8 C519.67 344.77 521.33 345.73 523 346.9 C524.67 348.07 526.33 349.43 528 350.8 C529.67 352.17 531.33 353.6 533 355.1 C534.67 356.6 536.5 358.42 538 359.8 C539.5 361.18 540 361.4 542 363.4 C544 365.4 547 368.75 550 371.8 C553 374.85 556.67 378.47 560 381.7 C563.33 384.93 566.67 388.18 570 391.2 C573.33 394.22 577.25 397.62 580 399.8 C582.75 401.98 585.42 403.55 586.5 404.3" fill="none" stroke="#700010" stroke-width="2" stroke-linejoin="round" stroke-linecap="round"/>
<path d="M586.5 404.3 L591 406.1 L597 407.6" fill="none" stroke="#700010" stroke-width="2" stroke-linejoin="round" stroke-linecap="round"/>
<path d="M463.5 388.4 C464.25 388.17 466.25 387.58 468 387 C469.75 386.42 472.33 385.48 474 384.9 C475.67 384.32 476.67 384.02 478 383.5 C479.33 382.98 480.83 382.28 482 381.8 C483.17 381.32 483.67 380.95 485 380.6 C486.33 380.25 488.33 379.83 490 379.7 C491.67 379.57 493.33 379.7 495 379.8 C496.67 379.9 498.33 380.03 500 380.3 C501.67 380.57 503 380.9 505 381.4 C507 381.9 509.5 382.52 512 383.3 C514.5 384.08 517.33 385 520 386.1 C522.67 387.2 525.5 388.58 528 389.9 C530.5 391.22 533 392.78 535 394 C537 395.22 538.33 396.18 540 397.2 C541.67 398.22 543.33 399.12 545 400.1 C546.67 401.08 548.33 402.08 550 403.1 C551.67 404.12 553.33 405.17 555 406.2 C556.67 407.23 558.33 408.28 560 409.3 C561.67 410.32 563.33 411.35 565 412.3 C566.67 413.25 568.33 414.12 570 415 C571.67 415.88 573.33 416.8 575 417.6 C576.67 418.4 578.33 419.12 580 419.8 C581.67 420.48 583.33 421.12 585 421.7 C586.67 422.28 588 422.75 590 423.3 C592 423.85 595.83 424.72 597 425" fill="none" stroke="#7c8214" stroke-width="2" stroke-linejoin="round" stroke-linecap="round"/>
</svg>
</body></html>
